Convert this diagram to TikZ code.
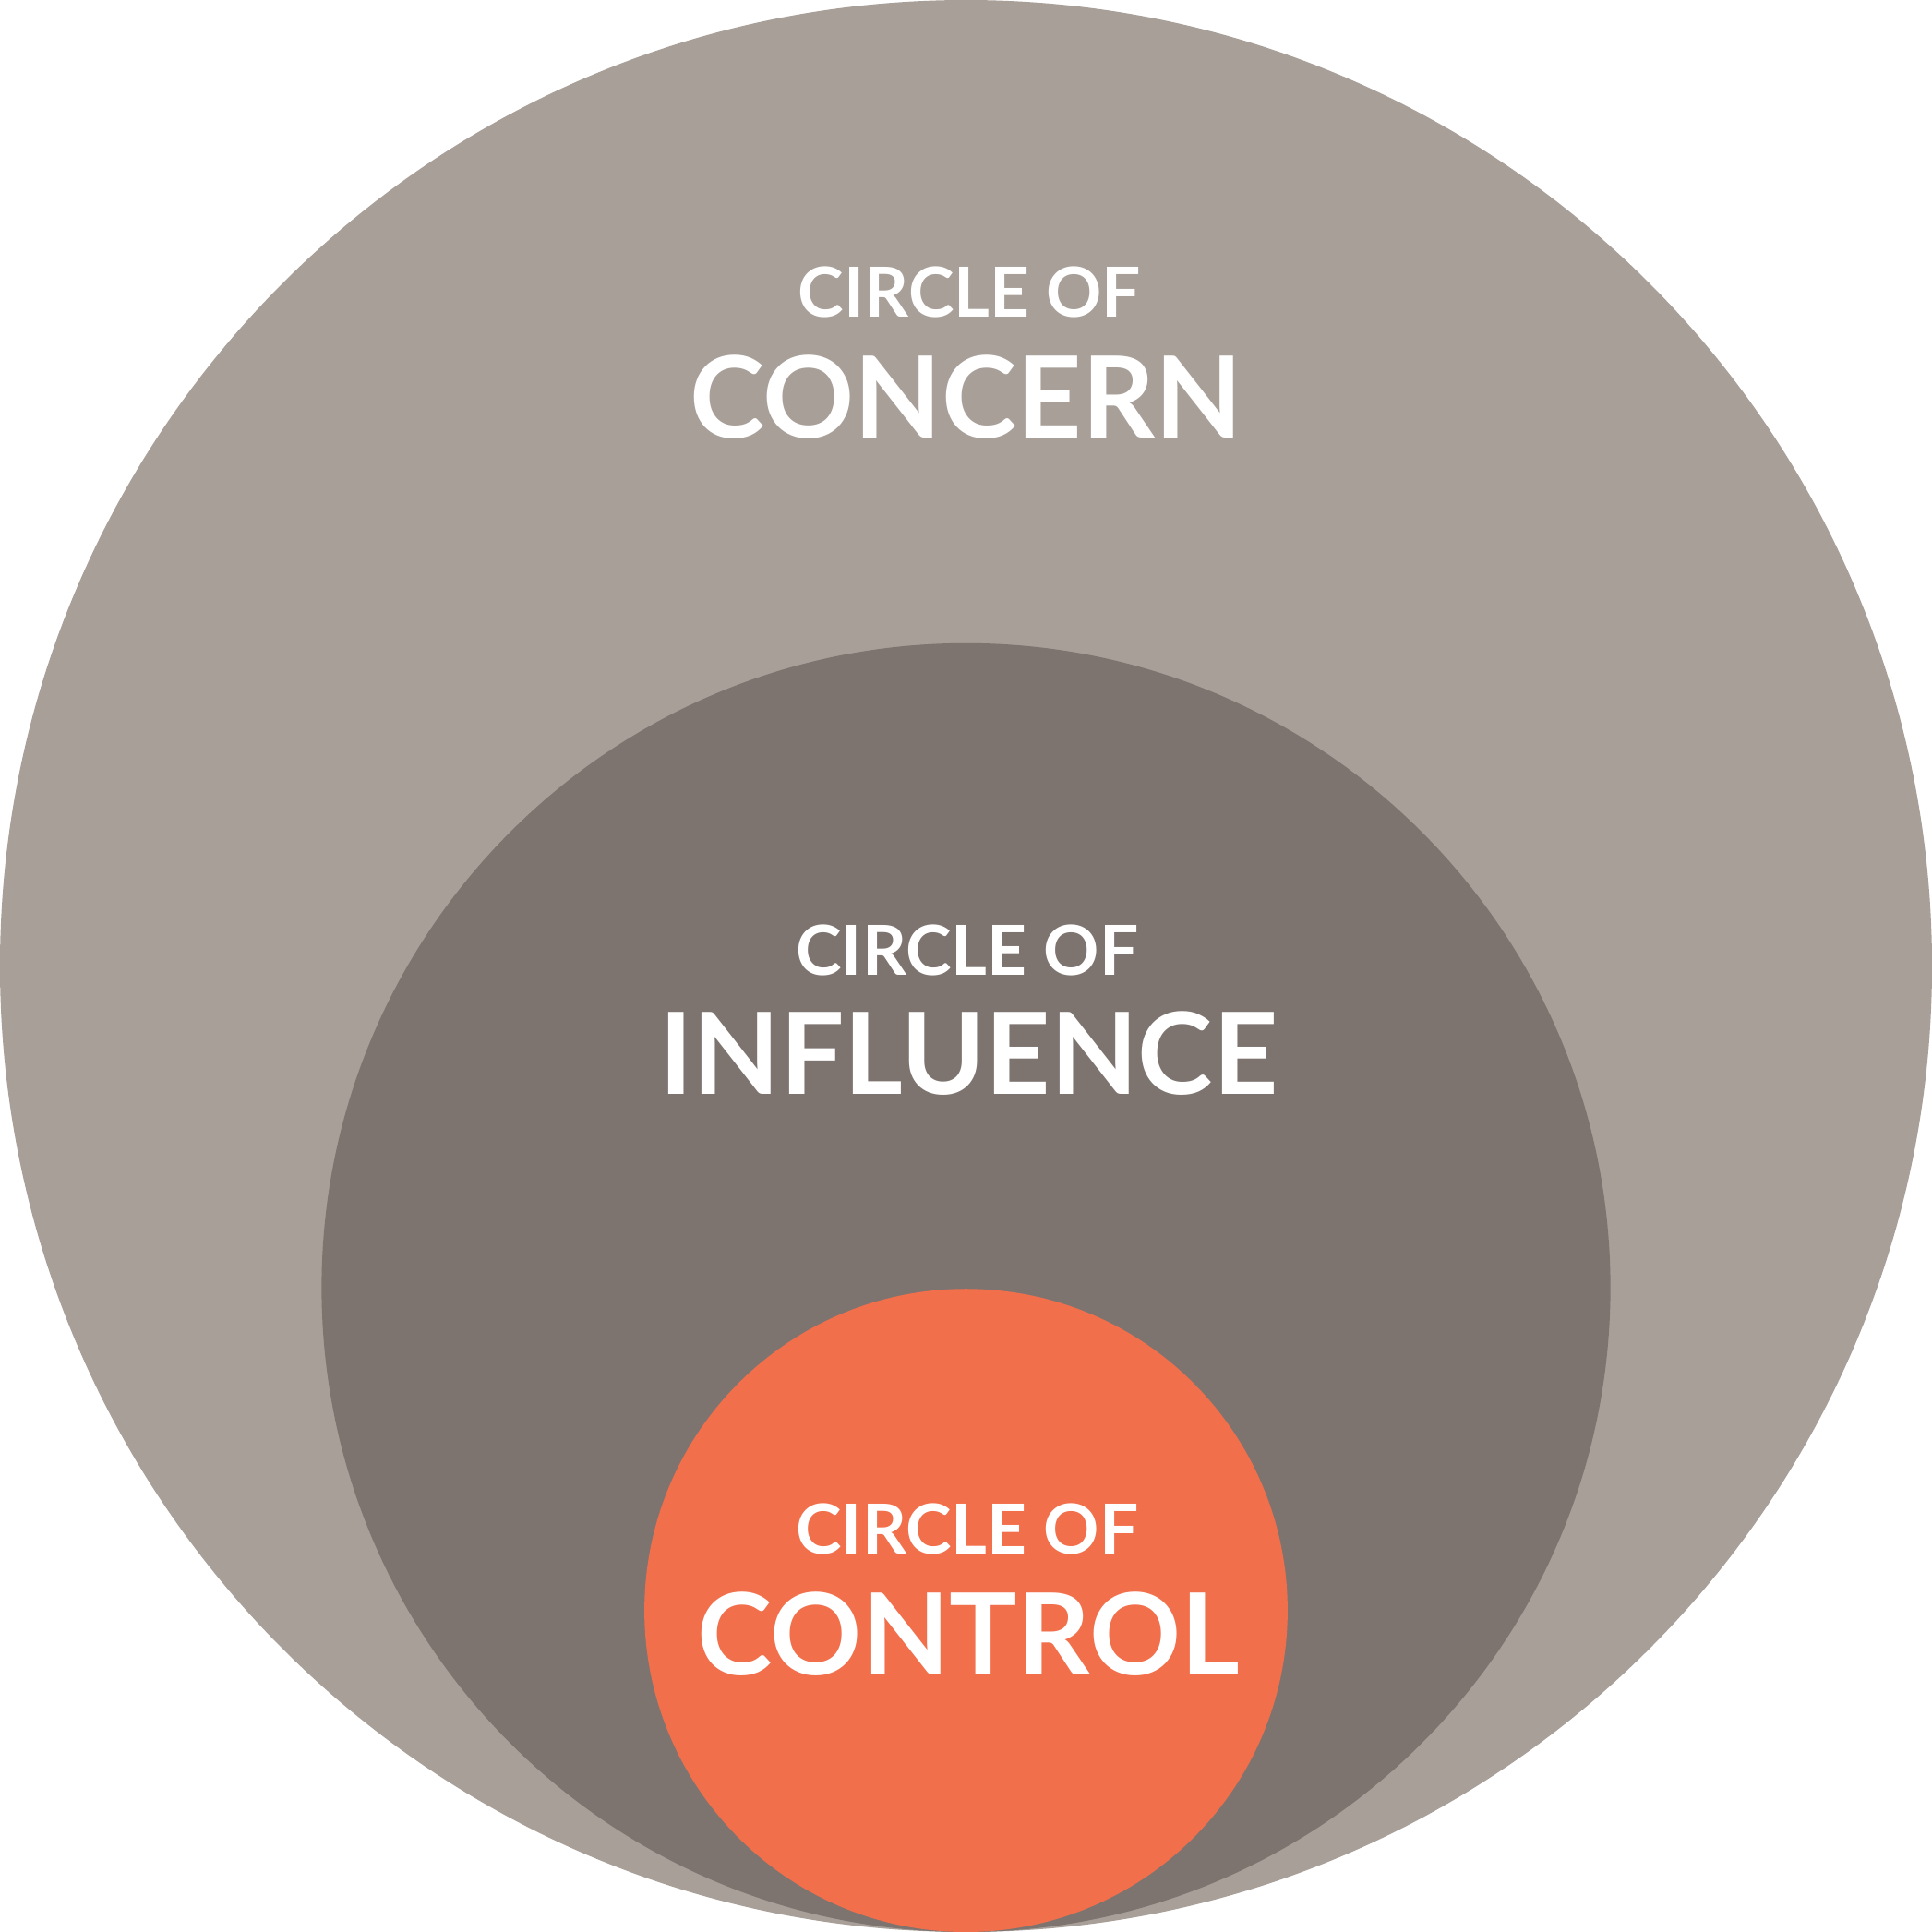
\documentclass[tikz,border=0pt]{standalone}
\usepackage{fontspec}
\setmainfont{Lato}
\definecolor{concern}{HTML}{A89F99}
\definecolor{influence}{HTML}{7D7470}
\definecolor{control}{HTML}{F26F4C}
\begin{document}
\begin{tikzpicture}[x=1pt,y=-1pt,
  ring/.style={circle,inner sep=0pt,outer sep=0pt},
  small/.style={text=white,font=\fontsize{56}{56}\selectfont\bfseries,inner sep=0pt},
  big/.style={text=white,font=\fontsize{92}{92}\selectfont\bfseries,inner sep=0pt}]
\useasboundingbox (0,0) rectangle (1568,1568);
\node[ring,fill=concern,minimum size=1568pt] (outer) at (784,784) {};
\node[ring,fill=influence,minimum size=1046pt] (mid) at (784,1045) {};
\node[ring,fill=control,minimum size=522pt] (inner) at (784,1307) {};
\node[small] (t1) at (787,237) {CIRCLE OF};
\node[big] (b1) at (784,322) {CONCERN};
\node[small] (t2) at (785,771) {CIRCLE OF};
\node[big] (b2) at (786,855) {INFLUENCE};
\node[small] (t3) at (785,1241) {CIRCLE OF};
\node[big] (b3) at (786,1326) {CONTROL};
\end{tikzpicture}
\end{document}
